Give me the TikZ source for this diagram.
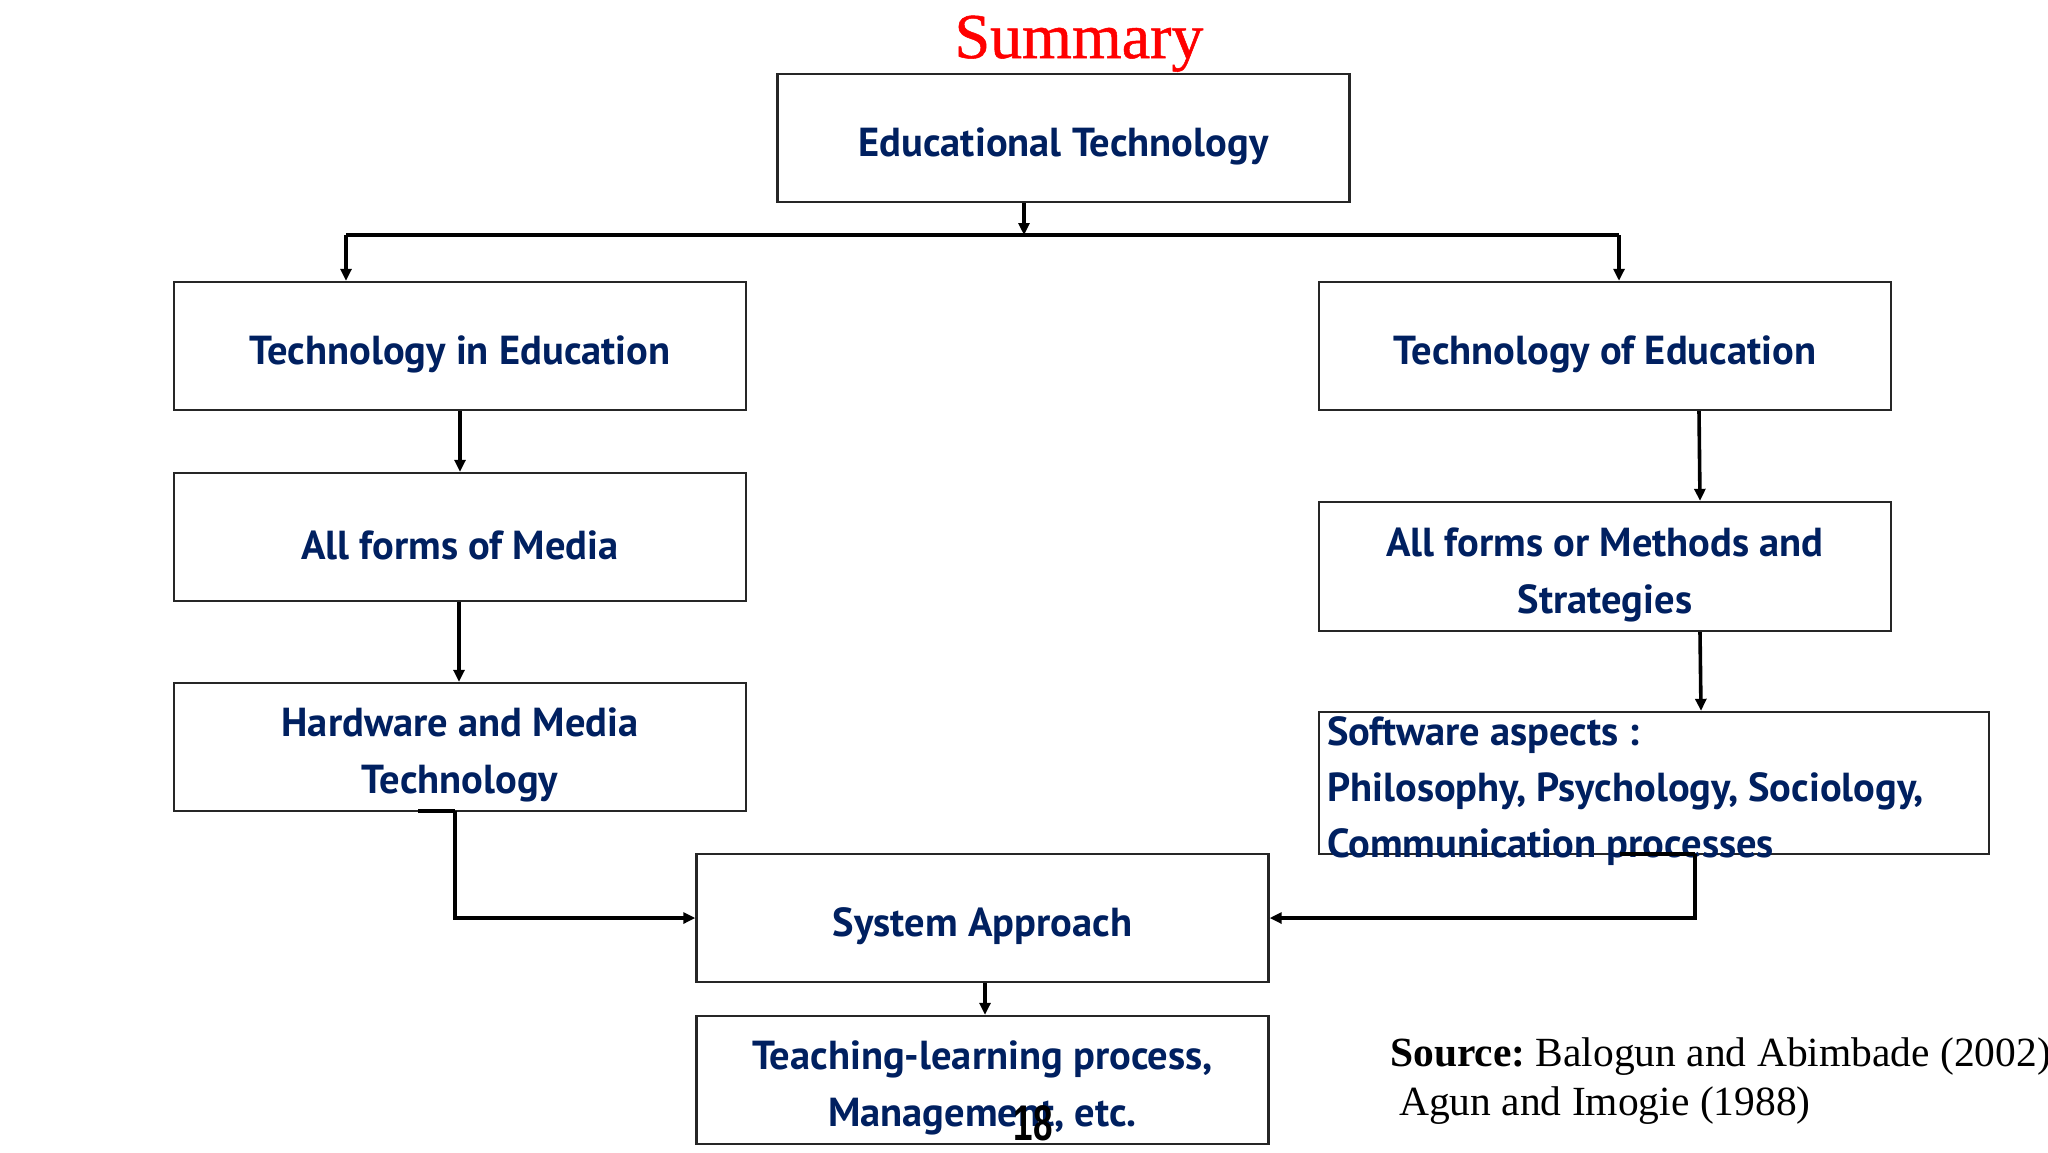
\documentclass[tikz,border=0pt]{standalone}
\usepackage{fontspec}
\setmainfont{Liberation Serif}
\newfontfamily\boxfont{PT Sans}
\newfontfamily\numfont{Liberation Sans}
\newfontface\titlefont{Liberation Serif}[FakeBold=0.8]
\usetikzlibrary{arrows.meta}
\definecolor{navy}{HTML}{002060}
\definecolor{titlered}{HTML}{FF0000}
\begin{document}
\begin{tikzpicture}[x=1pt,y=-1pt,
  box/.style={draw=black!85, line width=2.4pt, minimum width=572pt, minimum height=128pt,
    inner sep=0pt},
  boxtext/.style={inner sep=0pt, align=center, text=navy,
    font=\boxfont\bfseries\fontsize{40.5}{57}\selectfont},
  conn/.style={line width=3.6pt, -{Triangle[length=12pt,width=11pt]}},
  plain/.style={line width=3.6pt},
]
\useasboundingbox (0,0) rectangle (2048,1152);
\fill[white] (0,0) rectangle (2048,1152);

\node[text=titlered, font=\titlefont\fontsize{64}{70}\selectfont, anchor=base] (title) at (1079,58) {Summary};

\node[box] (edu) at (1063.5,138) {};
\node[box] (tie) at (460,346) {};
\node[box] (media) at (460,537) {};
\node[box] (hw) at (460,747) {};
\node[box] (toe) at (1605,346) {};
\node[box, minimum height=129pt] (meth) at (1605,566.5) {};
\node[box, minimum width=670pt, minimum height=142pt] (soft) at (1654,783) {};
\node[box] (sa) at (982.5,918) {};
\node[box] (tl) at (982.5,1080) {};

\node[boxtext] (edut) at ([yshift=-8pt]edu.center) {Educational Technology};
\node[boxtext] (tiet) at ([yshift=-8pt]tie.center) {Technology in Education};
\node[boxtext] (mediat) at ([yshift=-8pt]media.center) {All forms of Media};
\node[boxtext] (hwt) at ([yshift=-8pt]hw.center) {Hardware and Media\\Technology};
\node[boxtext] (toet) at ([yshift=-8pt]toe.center) {Technology of Education};
\node[boxtext] (metht) at ([yshift=-8pt]meth.center) {All forms or Methods and\\Strategies};
\node[boxtext, anchor=north west, align=left, font=\boxfont\bfseries\fontsize{40.5}{56}\selectfont] (softt) at (1327,716)
  {Software aspects :\\Philosophy, Psychology, Sociology,\\Communication processes};
\node[boxtext] (sat) at ([yshift=-8pt]sa.center) {System Approach};
\node[boxtext] (tlt) at ([yshift=-8pt]tl.center) {Teaching-learning process,\\Management, etc.};

\node[font=\numfont\bfseries\fontsize{50}{54}\selectfont, xscale=0.7, anchor=base, inner sep=0pt] (pnum) at (1033,1140) {18};

\node[anchor=base west, inner sep=0pt, font=\fontsize{41.5}{50}\selectfont] (src1) at (1390,1066)
  {\textbf{Source:}~Balogun and Abimbade (2002)};
\node[anchor=base west, inner sep=0pt, font=\fontsize{41.5}{50}\selectfont] (src2) at (1399,1115)
  {Agun and Imogie (1988)};

% connectors
\coordinate (bus) at (1024,235);
\coordinate (busL) at (346,235);
\coordinate (busR) at (1619,235);
\draw[conn] (edu.south -| bus) -- (bus);
\draw[plain] (busL) -- (busR);
\draw[conn] (busL) -- (busL |- tie.north);
\draw[conn] (busR) -- (busR |- toe.north);
\draw[conn] (tie.south) -- (media.north);
\draw[conn] (media.south -| 459,0) -- (hw.north -| 459,0);
\draw[conn] (toe.south -| 1699,0) -- (meth.north -| 1700,0);
\draw[conn] (meth.south -| 1700,0) -- (soft.north -| 1701,0);

\coordinate (hwstub) at (418,811);
\coordinate (hwdown) at (455,811);
\draw[plain] (hwstub) -- (hwdown);
\draw[conn] (hwdown) -- (hwdown |- sa.west) -- (sa.west);

\coordinate (swstub) at (1620,854);
\coordinate (swdown) at (1695,854);
\draw[plain] (swstub) -- (swdown);
\draw[conn] (swdown) -- (swdown |- sa.east) -- (sa.east);

\draw[conn] (sa.south -| 985,0) -- (tl.north -| 985,0);
\end{tikzpicture}
\end{document}
